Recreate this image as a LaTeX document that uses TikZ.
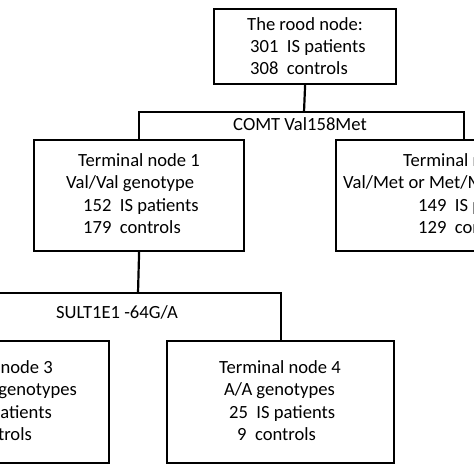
\documentclass[tikz,border=0pt]{standalone}
\usepackage{fontspec}
\setmainfont{Carlito}
\begin{document}
\begin{tikzpicture}[x=1pt,y=-1pt,
  box/.style={draw, line width=2.2pt, inner sep=0pt, anchor=north west},
  txt/.style={inner sep=0pt, font=\fontsize{18.6}{22}\selectfont, anchor=base west},
  txtr/.style={inner sep=0pt, font=\fontsize{18.6}{22}\selectfont, anchor=base east},
  lbl/.style={inner sep=0pt, font=\fontsize{18.6}{22}\selectfont, anchor=base},
  conn/.style={line width=2.2pt}]
\useasboundingbox (0,0) rectangle (474,474);
\fill[white] (0,0) rectangle (474,474);
\clip (0,0) rectangle (474,474);
% boxes
\node[box, minimum width=182pt, minimum height=75pt] (root) at (213,8) {};
\node[box, minimum width=210pt, minimum height=111pt] (t1) at (33,139) {};
\node[box, minimum width=256pt, minimum height=111pt] (t2) at (335,139) {};
\node[box, minimum width=227pt, minimum height=122pt] (t3) at (-119,340) {};
\node[box, minimum width=227pt, minimum height=122pt] (t4) at (166,340) {};
% connectors
\coordinate (j1) at (304,112);
\coordinate (j2) at (138,293);
\draw[conn] (root.south) -- (j1);
\draw[conn] (t1.north) -- (t1.north |- j1) -- (t2.north |- j1) -- (t2.north);
\draw[conn] (t1.south) -- (j2);
\draw[conn] (t3.north) -- (t3.north |- j2) -- (t4.north |- j2) -- (t4.north);
% split labels
\node[lbl] (s1) at (300,130.5) {COMT Val158Met};
\node[lbl] (s2) at (117,318.5) {SULT1E1 -64G/A};
% root text
\node[txt] (r1) at (247,30.5) {The rood node:};
\node[txt] (r2) at (250,52.5) {301\ \ IS patients};
\node[txt] (r3) at (250,74.5) {308\ \ controls};
% terminal node 1
\node[txt] (a1) at (78,166.5) {Terminal node 1};
\node[txt] (a2) at (66,188.5) {Val/Val genotype};
\node[txt] (a3) at (83,211.5) {152\ \ IS patients};
\node[txt] (a4) at (83,233.5) {179\ \ controls};
% terminal node 2
\node[txt] (b1) at (403,166.5) {Terminal node 2};
\node[txt] (b2) at (343,188.5) {Val/Met or Met/Met genotypes};
\node[txt] (b3) at (418,211.5) {149\ \ IS patients};
\node[txt] (b4) at (418,233.5) {129\ \ controls};
% terminal node 3
\node[txtr] (c1) at (53,373.5) {Terminal node 3};
\node[txtr] (c2) at (77,395.5) {G/G or G/A genotypes};
\node[txtr] (c3) at (52,418.5) {127\ \ IS patients};
\node[txtr] (c4) at (32,440.5) {170\ \ controls};
% terminal node 4
\node[txt] (d1) at (219,373.5) {Terminal node 4};
\node[txt] (d2) at (224,395.5) {A/A genotypes};
\node[txt] (d3) at (229,418.5) {25\ \ IS patients};
\node[txt] (d4) at (237,440.5) {9\ \ controls};
\end{tikzpicture}
\end{document}
